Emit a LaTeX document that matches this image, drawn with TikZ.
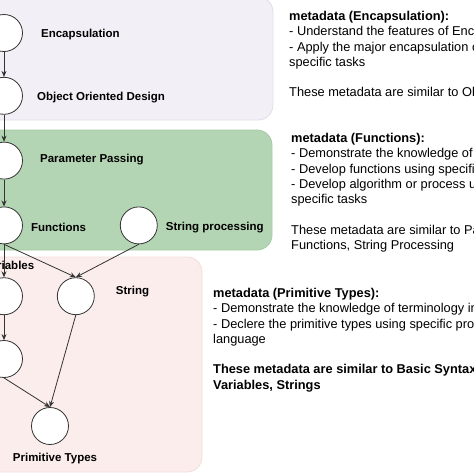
\documentclass[tikz,border=0pt]{standalone}
\usepackage{fontspec}
\setmainfont{Liberation Sans}
\usetikzlibrary{automata, arrows.meta, positioning}
\definecolor{oopfill}{RGB}{242,240,246}
\definecolor{oopdraw}{RGB}{224,221,232}
\definecolor{funfill}{RGB}{180,213,180}
\definecolor{fundraw}{RGB}{165,204,165}
\definecolor{primfill}{RGB}{251,237,235}
\definecolor{primdraw}{RGB}{241,221,218}
\definecolor{edgegray}{RGB}{51,51,51}
\tikzset{
    group/.style={rounded corners=15pt, line width=0.8pt},
    topic/.style={font=\fontsize{11.5}{13}\selectfont\bfseries, inner sep=0pt, yshift=-2pt},
    meta/.style={font=\fontsize{12.8}{15.3}\selectfont, align=left, inner sep=0pt, anchor=north west},
    flow/.style={-{Stealth[length=6pt, width=5pt]}, draw=edgegray, line width=0.8pt},
    every state/.append style={fill=white, draw=edgegray, line width=0.8pt, minimum size=37pt, inner sep=0pt},
}

\begin{document}
\begin{tikzpicture}[x=1pt, y=-1pt]
    \useasboundingbox (0,0) rectangle (474,474);
    \clip (0,0) rectangle (474,474);

    % groups
    \draw[group, fill=oopfill, draw=oopdraw] (-20,-3) rectangle (273,120);
    \draw[group, fill=funfill, draw=fundraw] (-20,130) rectangle (272,250);
    \draw[group, fill=primfill, draw=primdraw] (-20,257) rectangle (202,472);

    \node[state] (enc) at (4,33) {};
    \node[state, below=25pt of enc] (ood) {};
    \node[state, below=27pt of ood] (pp) {};
    \node[state, below=27pt of pp] (fun) {};
    \node[state, right=97pt of fun] (strp) {};
    \node[state, below=33pt of fun] (var) {};
    \node[state, right=34pt of var] (str) {};
    \node[state, below=25pt of var] (ops) {};
    \node[state] (prim) at (50,426) {};

    \node[topic, right=18pt of enc] (encT) {Encapsulation};
    \node[topic, right=14pt of ood] (oodT) {Object Oriented Design};
    \node[topic, right=17pt of pp, yshift=3pt] (ppT) {Parameter Passing};
    \node[topic, right=8pt of fun] (funT) {Functions};
    \node[topic, right=8pt of strp] (strpT) {String processing};
    \node[topic, above=9pt of var, xshift=5pt] (varT) {Variables};
    \node[topic, right=21pt of str, yshift=7pt] (strT) {String};
    \node[topic, below=6pt of prim, xshift=5pt] (primT) {Primitive Types};

    \draw[flow] (enc) -- (ood);
    \draw[flow] (ood) -- (pp);
    \draw[flow] (pp) -- (fun);
    \draw[flow] (fun) -- (var);
    \draw[flow] (fun.south) -- (str.north);
    \draw[flow] (strp.south) -- (str.north);
    \draw[flow] (var) -- (ops);
    \draw[flow] (ops.south) -- (prim.north);
    \draw[flow] (str.south) -- (prim.north);

    \node[meta] (encMeta) at (289,11) {\textbf{metadata (Encapsulation):}\\
      - Understand the features of Encapsulation\\
      - Apply the major encapsulation concepts\\
      specific tasks\\[15.3pt]
      These metadata are similar to Object Oriented Design};
    \node[meta] (funMeta) at (291,133) {\textbf{metadata (Functions):}\\
      - Demonstrate the knowledge of\\
      - Develop functions using specific\\
      - Develop algorithm or process using\\
      specific tasks\\[15.3pt]
      These metadata are similar to Parameter Passing,\\
      Functions, String Processing};
    \node[meta] (primMeta) at (213,288) {\textbf{metadata (Primitive Types):}\\
      - Demonstrate the knowledge of terminology in\\
      - Declere the primitive types using specific programming\\
      language\\[15.3pt]
      \textbf{These metadata are similar to Basic Syntax,}\\
      \textbf{Variables, Strings}};
  \end{tikzpicture}
\end{document}
